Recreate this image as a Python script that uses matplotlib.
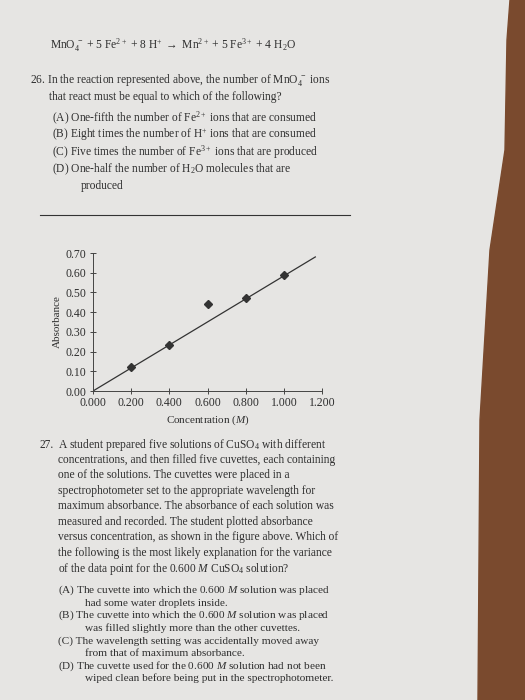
import matplotlib
matplotlib.use("Agg")
import matplotlib.pyplot as plt
from matplotlib.patches import Polygon

plt.rcParams['font.family'] = ['Liberation Serif', 'DejaVu Serif']
plt.rcParams['mathtext.fontset'] = 'custom'
plt.rcParams['mathtext.rm'] = 'Liberation Serif'
plt.rcParams['mathtext.it'] = 'Liberation Serif:italic'

conc = [0.200, 0.400, 0.600, 0.800, 1.000]
absorb = [0.12, 0.235, 0.44, 0.47, 0.59]
fit_x = [0.0, 1.165]
fit_y = [0.0, 0.68]
xticks = [0.0, 0.2, 0.4, 0.6, 0.8, 1.0, 1.2]
xticklabels = ["0.000", "0.200", "0.400", "0.600", "0.800", "1.000", "1.200"]
yticks = [0.0, 0.1, 0.2, 0.3, 0.4, 0.5, 0.6, 0.7]
yticklabels = ["0.00", "0.10", "0.20", "0.30", "0.40", "0.50", "0.60", "0.70"]

W, H = 525, 700
fig = plt.figure(figsize=(5.25, 7), dpi=100)
fig.patch.set_facecolor('#e6e5e3')

bg = fig.add_axes([0, 0, 1, 1], zorder=-5)
bg.set_xlim(0, W); bg.set_ylim(H, 0); bg.axis('off')
bg.add_patch(Polygon([[510, 0], [525, 0], [525, 700], [478, 700], [480, 420], [490, 250], [505, 150], [507, 40]],
                     closed=True, color='#7a4a2e'))
bg.plot([40, 350], [215, 215], color='#333333', lw=0.8)

tc = '#2e2e2e'
fs = 8.3
def t(x, y, s, **kw):
    bg.text(x, y, s, fontsize=kw.pop('fontsize', fs), color=tc, va='center', ha='left', **kw)

t(50, 45, r'MnO$_4^{\ -}$ + 5 Fe$^{2+}$ + 8 H$^{+}$ $\rightarrow$ Mn$^{2+}$ + 5 Fe$^{3+}$ + 4 H$_2$O')
t(30, 80, r'26. In the reaction represented above, the number of MnO$_4^{\ -}$ ions')
t(49, 97, 'that react must be equal to which of the following?')
t(52, 118, r'(A) One-fifth the number of Fe$^{2+}$ ions that are consumed')
t(52, 135, r'(B) Eight times the number of H$^{+}$ ions that are consumed')
t(52, 152, r'(C) Five times the number of Fe$^{3+}$ ions that are produced')
t(52, 169, r'(D) One-half the number of H$_2$O molecules that are')
t(81, 186, 'produced')

lines27 = [
    r'A student prepared five solutions of CuSO$_4$ with different',
    'concentrations, and then filled five cuvettes, each containing',
    'one of the solutions. The cuvettes were placed in a',
    'spectrophotometer set to the appropriate wavelength for',
    'maximum absorbance. The absorbance of each solution was',
    'measured and recorded. The student plotted absorbance',
    'versus concentration, as shown in the figure above. Which of',
    'the following is the most likely explanation for the variance',
    r'of the data point for the 0.600 $\it{M}$ CuSO$_4$ solution?',
]
ys = [445, 460, 475, 491, 506, 522, 537, 553, 569]
t(39, 445, '27.')
for y, s in zip(ys, lines27):
    t(58, y, s)
opts = [
    (590, 58, r'(A) The cuvette into which the 0.600 $\it{M}$ solution was placed'),
    (603, 85, 'had some water droplets inside.'),
    (615, 58, r'(B) The cuvette into which the 0.600 $\it{M}$ solution was placed'),
    (628, 85, 'was filled slightly more than the other cuvettes.'),
    (641, 58, '(C) The wavelength setting was accidentally moved away'),
    (653, 85, 'from that of maximum absorbance.'),
    (666, 58, r'(D) The cuvette used for the 0.600 $\it{M}$ solution had not been'),
    (678, 85, 'wiped clean before being put in the spectrophotometer.'),
]
for y, x, s in opts:
    t(x, y, s, fontsize=8.1)

ax = fig.add_axes([93 / W, 1 - 391 / H, (322 - 93) / W, (391 - 253) / H])
ax.set_facecolor('none')
ax.plot(fit_x, fit_y, color='#333333', lw=0.9)
ax.plot(conc, absorb, 'D', color='#333333', ms=4)
ax.set_xlim(0, 1.2); ax.set_ylim(0, 0.7)
ax.set_xticks(xticks); ax.set_xticklabels(xticklabels)
ax.set_yticks(yticks); ax.set_yticklabels(yticklabels)
ax.spines['top'].set_visible(False); ax.spines['right'].set_visible(False)
for s in ('left', 'bottom'):
    ax.spines[s].set_color('#444444'); ax.spines[s].set_linewidth(0.7)
ax.tick_params(direction='inout', length=5, width=0.7, labelsize=8.5, colors='#444444', labelcolor=tc, pad=2)
ax.set_xlabel(r'Concentration ($\it{M}$)', fontsize=8, color=tc, labelpad=3)
ax.set_ylabel('Absorbance', fontsize=8, color=tc, labelpad=3)

fig.savefig('out.png', dpi=100, facecolor=fig.get_facecolor())
